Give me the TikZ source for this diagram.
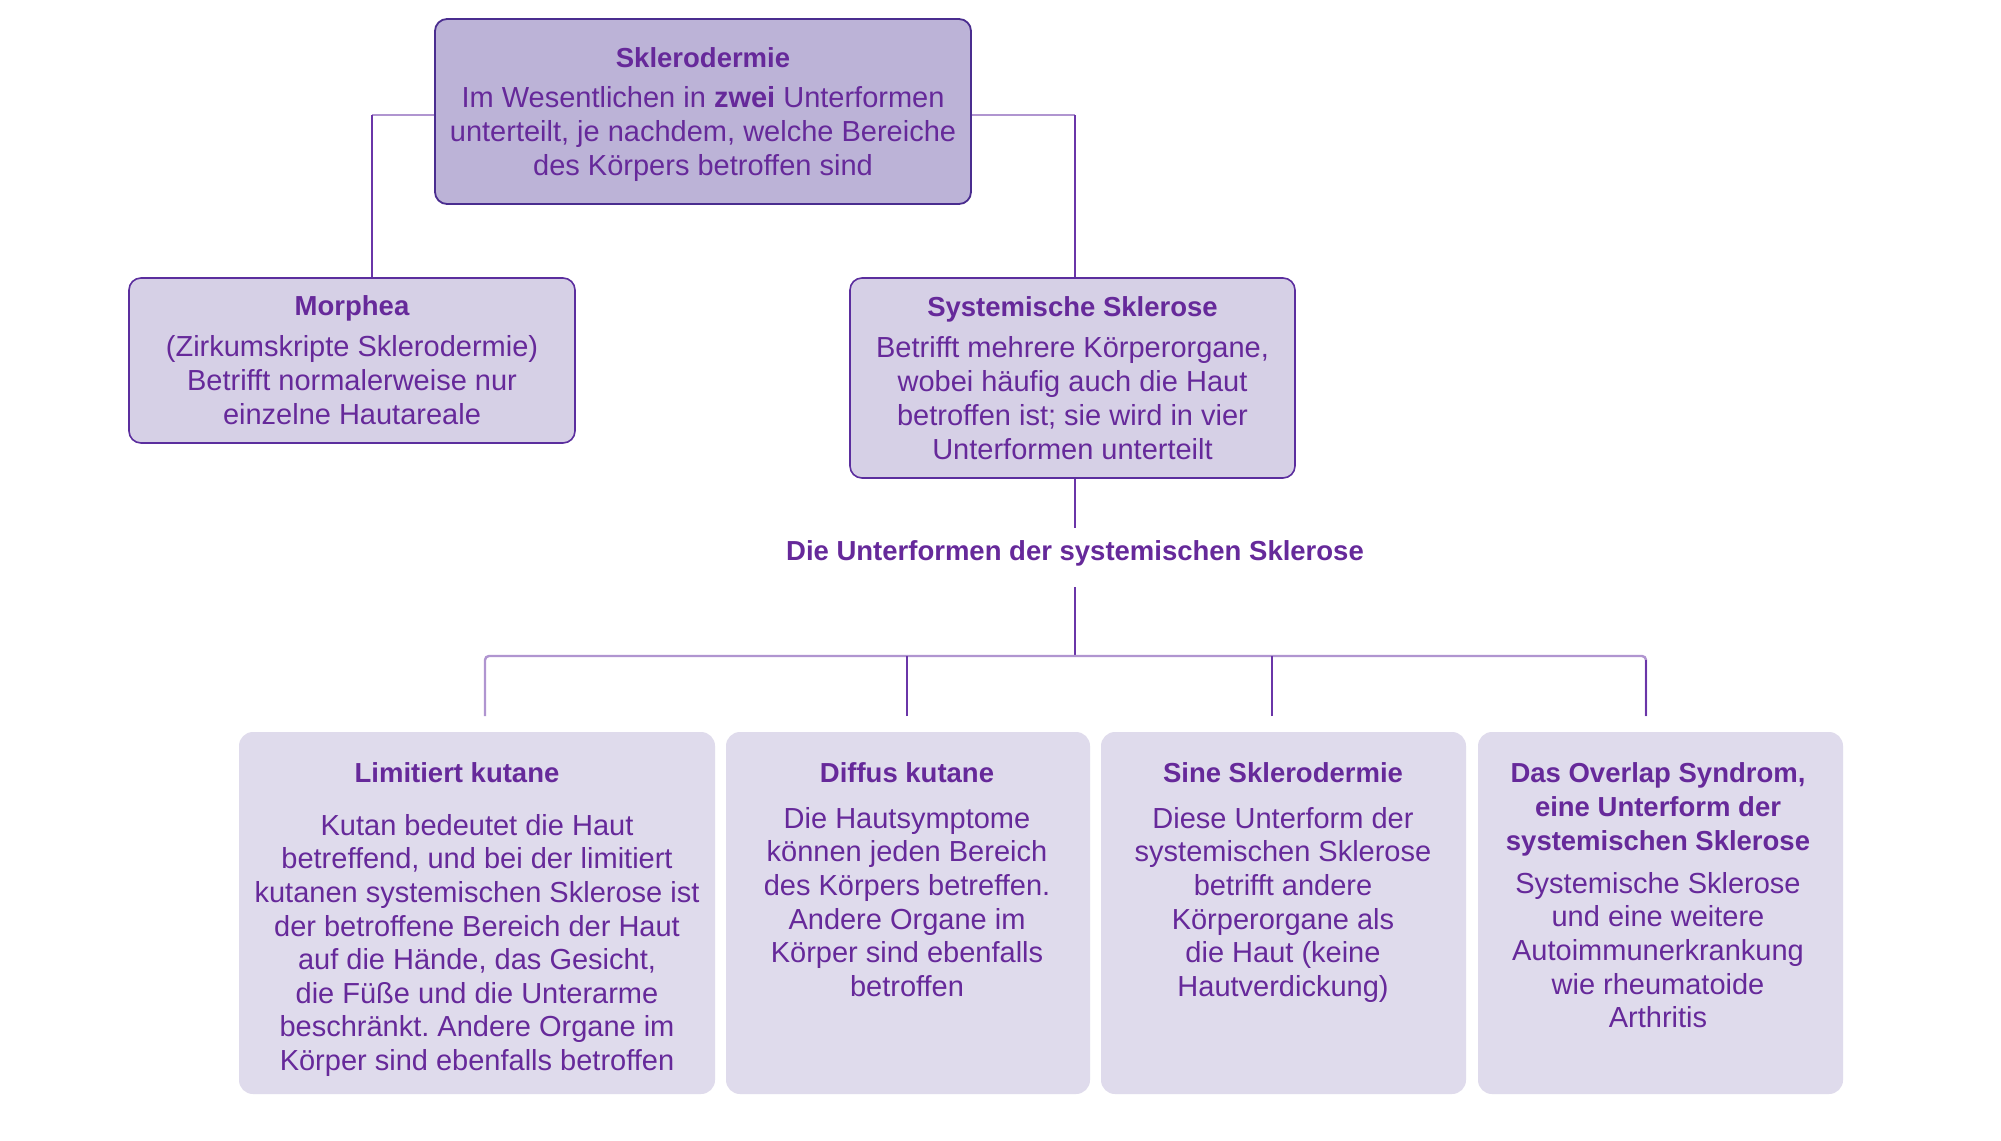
\documentclass[tikz,border=0pt]{standalone}
\usepackage{fontspec}
\setmainfont{Liberation Sans}
\frenchspacing
\definecolor{txt}{HTML}{66299A}
\definecolor{bdark}{HTML}{4A2D8F}
\definecolor{bmid}{HTML}{5B2E9E}
\definecolor{topfill}{HTML}{BCB3D7}
\definecolor{midfill}{HTML}{D6D0E6}
\definecolor{botfill}{HTML}{DFDBEC}
\definecolor{vcol}{HTML}{6A35A8}
\definecolor{hcol}{HTML}{B095D0}
\newcommand{\bdf}{\fontsize{29}{34}\selectfont}
\newcommand{\tbf}{\fontsize{27.5}{34}\selectfont\bfseries}
\tikzset{
  topbox/.style={draw=bdark, line width=1.8pt, fill=topfill, rounded corners=12pt,
    minimum width=536pt, minimum height=185pt, align=center, text=txt, font=\bdf, inner sep=0pt},
  midbox/.style={draw=bmid, line width=1.6pt, fill=midfill, rounded corners=12pt,
    align=center, text=txt, font=\bdf, inner sep=0pt},
  botbox/.style={fill=botfill, rounded corners=14pt, minimum height=362pt, inner sep=0pt},
  bodytxt/.style={align=center, text=txt, font=\bdf, inner sep=0pt, anchor=north},
  titletxt/.style={align=center, text=txt, font=\tbf, inner sep=0pt, anchor=north},
  vl/.style={draw=vcol, line width=1.5pt},
  hl/.style={draw=hcol, line width=2.4pt, rounded corners=4pt},
}
\begin{document}
\begin{tikzpicture}[x=1pt, y=-1pt]
\useasboundingbox (0,0) rectangle (2001,1140);
\fill[white] (0,0) rectangle (2001,1140);

% upper boxes
\node[topbox] (top) at (703,111.5) {\rule{0pt}{26pt}{\tbf Sklerodermie}\\[6pt]Im Wesentlichen in {\bfseries zwei} Unterformen\\unterteilt, je nachdem, welche Bereiche\\des Körpers betroffen sind};
\node[midbox, minimum width=446pt, minimum height=165pt] (morph) at (352,360.5) {{\tbf Morphea}\\[7pt](Zirkumskripte Sklerodermie)\\Betrifft normalerweise nur\\einzelne Hautareale};
\node[midbox, minimum width=445pt, minimum height=200pt] (sys) at (1072.5,378) {{\tbf Systemische Sklerose}\\[7pt]Betrifft mehrere Körperorgane,\\wobei häufig auch die Haut\\betroffen ist; sie wird in vier\\Unterformen unterteilt};

% connectors top
\coordinate (cl) at (372,115);
\coordinate (cr) at (1075,115);
\draw[hl] (top.west |- cl) -- (cl);
\draw[vl] (cl) -- (cl |- morph.north);
\draw[hl] (top.east |- cr) -- (cr);
\draw[vl] (cr) -- (cr |- sys.north);

% label
\node[text=txt, font=\tbf, inner sep=0pt, anchor=base] (lab) at (1075,560) {Die Unterformen der systemischen Sklerose};
\coordinate (la) at (1075,528);
\coordinate (lb) at (1075,587);
\coordinate (jc) at (1075,656);
\draw[vl] (sys.south -| la) -- (la);
\draw[vl] (lb) -- (jc);

% bottom boxes
\node[botbox, minimum width=476pt] (b1) at (477,913) {};
\node[botbox, minimum width=364pt] (b2) at (908,913) {};
\node[botbox, minimum width=365pt] (b3) at (1283.5,913) {};
\node[botbox, minimum width=365pt] (b4) at (1660.5,913) {};

% branch connectors
\coordinate (e1) at (485,716);
\coordinate (e2) at (907,716);
\coordinate (e3) at (1272,716);
\coordinate (e4) at (1646,716);
\draw[hl] (e1) |- (jc) -| (e4);
\draw[vl] (e2) -- (e2 |- jc);
\draw[vl] (e3) -- (e3 |- jc);
\draw[vl] ([yshift=-4pt]e4 |- jc) -- (e4);

% bottom texts
\node[titletxt] (tt1) at (457,762) {Limitiert kutane};
\node[bodytxt, font=\fontsize{29}{33.6}\selectfont] (bd1) at (477,814) {Kutan bedeutet die Haut\\betreffend, und bei der limitiert\\kutanen systemischen Sklerose ist\\der betroffene Bereich der Haut\\auf die Hände, das Gesicht,\\die Füße und die Unterarme\\beschränkt. Andere Organe im\\Körper sind ebenfalls betroffen};

\node[titletxt] (tt2) at (907,762) {Diffus kutane};
\node[bodytxt, font=\fontsize{29}{33.6}\selectfont] (bd2) at (907,807) {Die Hautsymptome\\können jeden Bereich\\des Körpers betreffen.\\Andere Organe im\\Körper sind ebenfalls\\betroffen};

\node[titletxt] (tt3) at (1283,762) {Sine Sklerodermie};
\node[bodytxt, font=\fontsize{29}{33.6}\selectfont] (bd3) at (1283,807) {Diese Unterform der\\systemischen Sklerose\\betrifft andere\\Körperorgane als\\die Haut (keine\\Hautverdickung)};

\node[titletxt] (tt4) at (1658,762) {Das Overlap Syndrom,\\eine Unterform der\\systemischen Sklerose};
\node[bodytxt, font=\fontsize{29}{33.6}\selectfont] (bd4) at (1658,872) {Systemische Sklerose\\und eine weitere\\Autoimmunerkrankung\\wie rheumatoide\\Arthritis};
\end{tikzpicture}
\end{document}
